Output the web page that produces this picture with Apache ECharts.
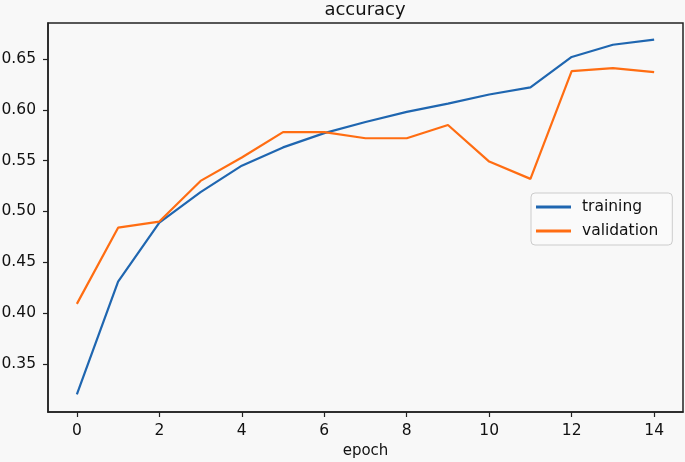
<!DOCTYPE html>
<html>
<head>
<meta charset="utf-8">
<script src="https://cdn.jsdelivr.net/npm/echarts@6/dist/echarts.min.js"></script>
<style>
html,body{margin:0;padding:0;background:#f8f8f8;}
#chart{width:685px;height:462px;}
</style>
</head>
<body>
<div id="chart"></div>
<script>
const epochs = [0,1,2,3,4,5,6,7,8,9,10,11,12,13,14];
const training = [0.320,0.431,0.489,0.519,0.545,0.563,0.577,0.588,0.598,0.606,0.615,0.622,0.652,0.664,0.669];
const validation = [0.409,0.484,0.490,0.530,0.553,0.578,0.578,0.572,0.572,0.585,0.549,0.532,0.638,0.641,0.637];
const xTicks = [0,2,4,6,8,10,12,14];
const yTicks = [0.35,0.40,0.45,0.50,0.55,0.60,0.65];
const seriesNames = ['training','validation'];
const titleText = 'accuracy';
const xLabel = 'epoch';

const font = 'DejaVu Sans';
const chart = echarts.init(document.getElementById('chart'), null, {renderer:'canvas'});
const pair = (ys) => epochs.map((e,i) => [e, ys[i]]);
chart.setOption({
  backgroundColor: '#f8f8f8',
  animation: false,
  title: {
    text: titleText, left: 365, top: 1, textAlign: 'center', padding: 0,
    textStyle: {fontFamily: font, fontSize: 18, fontWeight: 'normal', color: '#111'}
  },
  grid: {left: 48, top: 23, right: 2, bottom: 50, outerBoundsMode: 'none', containLabel: false,
    show: true, borderColor: '#222', borderWidth: 1.5, backgroundColor: '#f8f8f8'},
  legend: {
    orient: 'vertical', left: 531, top: 193,
    data: seriesNames,
    icon: 'rect', itemWidth: 35, itemHeight: 3, itemGap: 8,
    padding: [6, 14, 6, 5],
    backgroundColor: '#fafafa', borderColor: '#cccccc', borderWidth: 1, borderRadius: 4,
    textStyle: {fontFamily: font, fontSize: 15.5, color: '#111', padding: [0,0,0,6]}
  },
  xAxis: {
    type: 'value', min: -0.7, max: 14.7,
    name: xLabel, nameLocation: 'middle', nameGap: 31,
    nameTextStyle: {fontFamily: font, fontSize: 15, color: '#111'},
    axisLine: {show: true, onZero: false, lineStyle: {color: '#222', width: 1.5}},
    axisTick: {show: true, length: 5, customValues: xTicks, lineStyle: {color: '#222', width: 1.2}},
    axisLabel: {customValues: xTicks, fontFamily: font, fontSize: 15.5, color: '#111', margin: 11},
    splitLine: {show: false}
  },
  yAxis: {
    type: 'value', min: 0.3026, max: 0.6854,
    axisLine: {show: true, onZero: false, lineStyle: {color: '#222', width: 1.5}},
    axisTick: {show: true, length: 5, customValues: yTicks, lineStyle: {color: '#222', width: 1.2}},
    axisLabel: {customValues: yTicks, fontFamily: font, fontSize: 15.5, color: '#111', margin: 12,
      formatter: v => v.toFixed(2)},
    splitLine: {show: false}
  },
  series: [
    {name: seriesNames[0], type: 'line', data: pair(training), symbol: 'none', color: '#1f66b0',
      lineStyle: {width: 2.2, color: '#1f66b0'}},
    {name: seriesNames[1], type: 'line', data: pair(validation), symbol: 'none', color: '#ff6d12',
      lineStyle: {width: 2.2, color: '#ff6d12'}}
  ]
});
</script>
</body>
</html>
